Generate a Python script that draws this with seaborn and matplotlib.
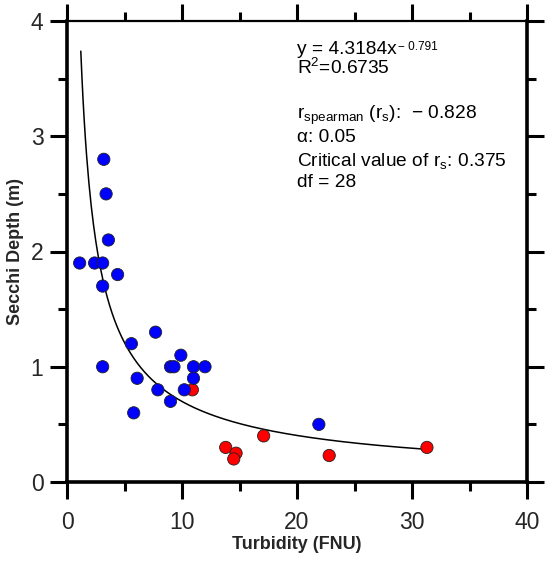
import numpy as np
import pandas as pd
import matplotlib
matplotlib.use("Agg")
import matplotlib.pyplot as plt
import seaborn as sns

# ---- data ----
blue_x = [3.2, 3.4, 3.6, 1.1, 2.4, 3.1, 4.4, 3.1, 7.7, 5.6, 9.9, 3.1, 9.0, 9.3,
          11.0, 12.0, 6.1, 11.0, 7.9, 10.2, 9.0, 5.8, 21.9]
blue_y = [2.8, 2.5, 2.1, 1.9, 1.9, 1.9, 1.8, 1.7, 1.3, 1.2, 1.1, 1.0, 1.0, 1.0,
          1.0, 1.0, 0.9, 0.9, 0.8, 0.8, 0.7, 0.6, 0.5]
red_x = [10.9, 17.1, 13.8, 14.7, 14.5, 22.8, 31.3]
red_y = [0.8, 0.4, 0.3, 0.25, 0.2, 0.23, 0.3]

fit_a = 4.3184
fit_b = -0.791
fit_xmin, fit_xmax = 1.2, 31.3

x_ticks = [0, 10, 20, 30, 40]
y_ticks = [0, 1, 2, 3, 4]

eq_text = "y = 4.3184x"
eq_sup = "\u2212 0.791"
annot_lines = [
    r"R$^{\mathregular{2}}$=0.6735",
    r"r$_{\mathregular{spearman}}$ (r$_{\mathregular{s}}$):  $\mathregular{-}$ 0.828",
    "α: 0.05",
    r"Critical value of r$_{\mathregular{s}}$: 0.375",
    "df = 28",
]
eq_y = 3.71
annot_y = [3.54, 3.15, 2.95, 2.74, 2.56]

# ---- styling ----
sns.set_style("ticks")
plt.rcParams["font.family"] = ["Liberation Sans", "DejaVu Sans"]
plt.rcParams["mathtext.fontset"] = "custom"
plt.rcParams["mathtext.rm"] = "Liberation Sans"
plt.rcParams["mathtext.it"] = "Liberation Sans"
plt.rcParams["mathtext.bf"] = "Liberation Sans:bold"

df = pd.DataFrame({
    "Turbidity": red_x + blue_x,
    "Secchi": red_y + blue_y,
    "group": ["red"] * len(red_x) + ["blue"] * len(blue_x),
})

fig = plt.figure(figsize=(5.5, 5.61), dpi=100)
ax = fig.add_axes([67 / 550, 1 - 482 / 561, 460 / 550, 461 / 561])

# fitted power curve
xf = np.linspace(fit_xmin, fit_xmax, 300)
yf = fit_a * xf ** fit_b
sns.lineplot(x=xf, y=yf, ax=ax, color="black", linewidth=1.1, zorder=2)

sns.scatterplot(data=df, x="Turbidity", y="Secchi", hue="group",
                palette={"red": "#ff0000", "blue": "#0000ff"},
                s=78, edgecolor="#222222", linewidth=0.6, legend=False,
                ax=ax, zorder=3)

ax.set_xlim(0, 40)
ax.set_ylim(0, 4)
ax.set_xticks(x_ticks)
ax.set_yticks(y_ticks)
ax.set_xticks([5, 15, 25, 35], minor=True)
ax.set_yticks([0.5, 1.5, 2.5, 3.5], minor=True)

for side in ["left", "bottom", "right"]:
    ax.spines[side].set_linewidth(2.6)
ax.spines["top"].set_linewidth(1.6)
for side in ax.spines:
    ax.spines[side].set_visible(True)
    ax.spines[side].set_color("black")

ax.tick_params(which="major", direction="out", length=12, width=2.2,
               top=True, right=True, labelsize=16.5, color="black")
ax.tick_params(which="minor", direction="out", length=6.5, width=2.2,
               top=True, right=True, color="black")
ax.tick_params(axis="x", which="major", pad=9)
ax.tick_params(axis="y", which="major", pad=5)

ax.set_xlabel("Turbidity (FNU)", fontsize=13, fontweight="bold")
ax.set_ylabel("Secchi Depth (m)", fontsize=13, fontweight="bold")
ax.xaxis.set_label_coords(0.5, -0.118)
ax.yaxis.set_label_coords(-0.093, 0.5)

eq = ax.text(20, eq_y, eq_text, fontsize=13.8, ha="left", va="baseline",
             color="black")
ax.annotate(eq_sup, xy=(1.0, 1.0), xycoords=eq, xytext=(1, 0),
            textcoords="offset points", fontsize=8.5, ha="left", va="top",
            color="black")
for txt, yy in zip(annot_lines, annot_y):
    ax.text(20, yy, txt, fontsize=13.8, ha="left", va="baseline", color="black")

fig.savefig("out.png", dpi=100)
